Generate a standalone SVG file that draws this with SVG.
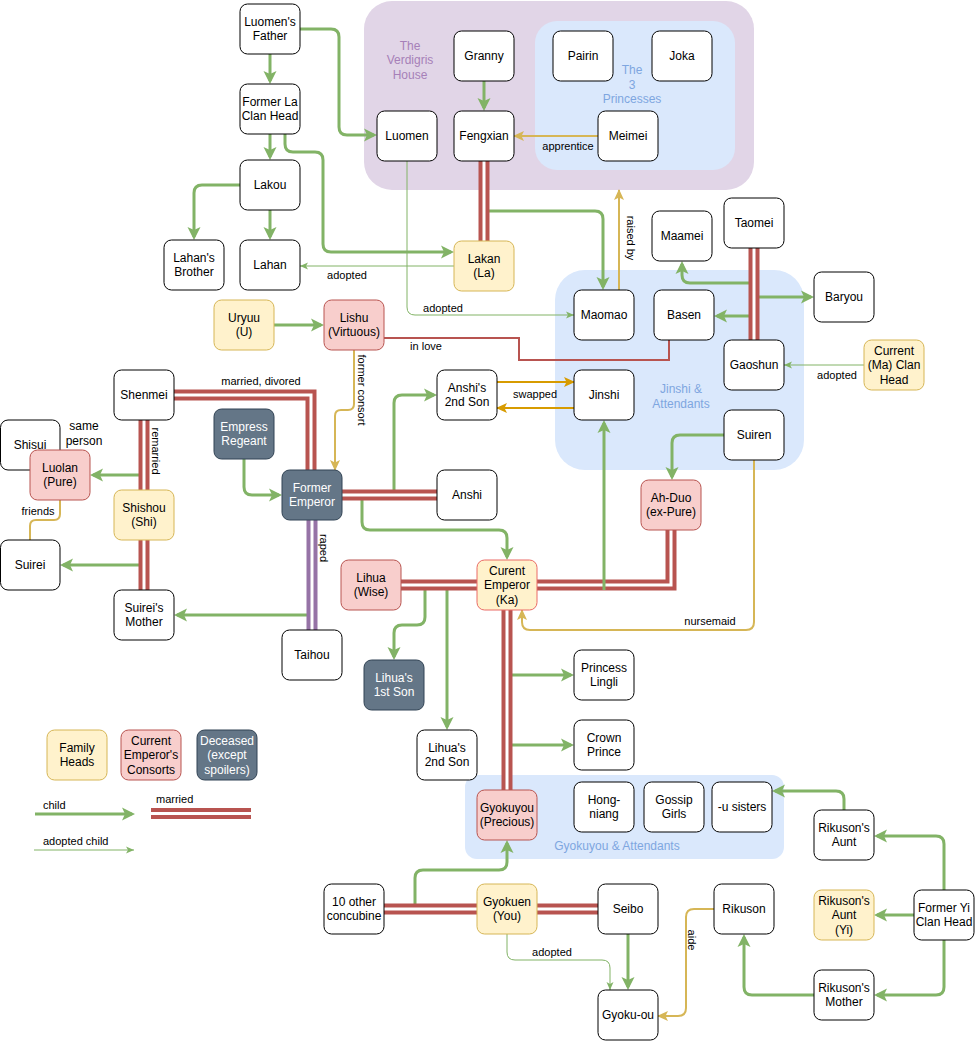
<svg xmlns="http://www.w3.org/2000/svg" width="975" height="1041" viewBox="0 0 975 1041">
<style>
.w{fill:#fff;stroke:#000;stroke-width:1}
.yl{fill:#fff2cc;stroke:#d6b656;stroke-width:1}
.rd{fill:#f8cecc;stroke:#b85450;stroke-width:1}
.dk{fill:#647687;stroke:#314354;stroke-width:1}
.em{fill:#fff2cc;stroke:#ea6b66;stroke-width:1}
text{font-family:"Liberation Sans",Arial,Helvetica,sans-serif;dominant-baseline:central;text-anchor:middle}
.t{font-size:12px;fill:#000}
.tw{font-size:12px;fill:#fff}
.l{font-size:11px;fill:#000}
.c{fill:none;stroke:#82b366;stroke-width:3;marker-end:url(#ag)}
.a{fill:none;stroke:#82b366;stroke-width:1;marker-end:url(#aa)}
.y{fill:none;stroke:#d6b656;stroke-width:2;marker-end:url(#ay)}
.yn{fill:none;stroke:#d6b656;stroke-width:2}
.o{fill:none;stroke:#d79b00;stroke-width:2;marker-end:url(#ao)}
.m1{fill:none;stroke:#b85450;stroke-width:11}
.p1{fill:none;stroke:#9673a6;stroke-width:11}
.m2{fill:none;stroke:#fff;stroke-width:3}
.lv1{fill:none;stroke:#b85450;stroke-width:2}
</style>
<defs>
<marker id="ag" markerUnits="userSpaceOnUse" viewBox="0 0 14 14" markerWidth="14" markerHeight="14" refX="10" refY="7" orient="auto"><path d="M0,0.5 L13,7 L0,13.5 L3,7 Z" fill="#82b366"/></marker>
<marker id="aa" markerUnits="userSpaceOnUse" viewBox="0 0 8 8" markerWidth="8" markerHeight="8" refX="8" refY="4" orient="auto"><path d="M0,0.5 L8,4 L0,7.5 L2,4 Z" fill="#82b366"/></marker>
<marker id="ay" markerUnits="userSpaceOnUse" viewBox="0 0 11 11" markerWidth="11" markerHeight="11" refX="10" refY="5.5" orient="auto"><path d="M0,0.5 L11,5.5 L0,10.5 L2.5,5.5 Z" fill="#d6b656"/></marker>
<marker id="ao" markerUnits="userSpaceOnUse" viewBox="0 0 11 11" markerWidth="11" markerHeight="11" refX="10" refY="5.5" orient="auto"><path d="M0,0.5 L11,5.5 L0,10.5 L2.5,5.5 Z" fill="#d79b00"/></marker>
</defs>
<rect width="975" height="1041" fill="#fff"/>

<g id="groups">
<g id="g-verdigris"><rect x="364" y="1" width="390" height="189" rx="28" fill="#e1d5e7"/>
<text style="font-size:12px;fill:#a680b8"><tspan x="410" y="45.5">The</tspan><tspan x="410" y="60">Verdigris</tspan><tspan x="410" y="74.5">House</tspan></text></g>
<g id="g-princesses"><rect x="535" y="21" width="200" height="149" rx="22" fill="#dae8fc"/>
<text style="font-size:12px;fill:#7ea6e0"><tspan x="632" y="70">The</tspan><tspan x="632" y="84.5">3</tspan><tspan x="632" y="99">Princesses</tspan></text></g>
<g id="g-jinshi"><rect x="555" y="270" width="249" height="200" rx="30" fill="#dae8fc"/>
<text style="font-size:12px;fill:#7ea6e0"><tspan x="681" y="389">Jinshi &amp;</tspan><tspan x="681" y="403.5">Attendants</tspan></text></g>
<g id="g-gyokuyou"><rect x="465" y="775" width="319" height="84" rx="12" fill="#dae8fc"/>
<text x="617" y="846" style="font-size:12px;fill:#7ea6e0">Gyokuyou &amp; Attendants</text></g>
</g>

<g id="connectors">
<path class="c" d="M270,54 V81"/>
<path class="c" d="M300,29 H331 Q339,29 339,37 V127 Q339,135 347,135 H374"/>
<path class="c" d="M270,134 V157"/>
<path class="c" d="M285,134 V144 Q285,152 293,152 H315 Q323,152 323,160 V244 Q323,252 331,252 H451"/>
<path class="c" d="M240,185 H202 Q194,185 194,193 V237"/>
<path class="c" d="M270,210 V237"/>
<path class="c" d="M484,81 V108"/>
<path class="c" d="M484,211 H595 Q603,211 603,219 V287"/>
<path class="c" d="M754,283 H690 Q682,283 682,275 V264"/>
<path class="c" d="M754,297 H811"/>
<path class="c" d="M754,316 H717"/>
<path class="c" d="M274,325 H321"/>
<path class="c" d="M144,475 H93"/>
<path class="c" d="M144,565 H63"/>
<path class="c" d="M244,459 V487 Q244,495 252,495 H279"/>
<path class="c" d="M312,615 H177"/>
<path class="c" d="M394,495 V403 Q394,395 402,395 H434"/>
<path class="c" d="M362,495 V522 Q362,530 370,530 H499 Q507,530 507,538 V557"/>
<path class="c" d="M724,435 H680 Q672,435 672,443 V477"/>
<path class="c" d="M425,585 V617 Q425,625 417,625 H402 Q394,625 394,633 V657"/>
<path class="c" d="M447,585 V727"/>
<path class="c" d="M507,675 H571"/>
<path class="c" d="M507,745 H571"/>
<path class="c" d="M415,909 V878 Q415,870 423,870 H499 Q507,870 507,862 V843"/>
<path class="c" d="M628,934 V987"/>
<path class="c" d="M844,810 V799 Q844,791 836,791 H775"/>
<path class="c" d="M944,890 V844 Q944,836 936,836 H877"/>
<path class="c" d="M914,915 H877"/>
<path class="c" d="M944,940 V987 Q944,995 936,995 H877"/>
<path class="c" d="M814,995 H752 Q744,995 744,987 V937"/>
<path class="a" d="M454,266 H300"/>
<path class="a" d="M407,161 V307 Q407,315 415,315 H574"/>
<path class="a" d="M864,365 H784"/>
<path class="a" d="M507,934 V952 Q507,960 515,960 H602 Q610,960 610,968 V990"/>
<path class="y" d="M598,136 H514"/>
<path class="y" d="M619,290 V190"/>
<path class="y" d="M354,350 V404 Q354,410 348,410 H341 Q335,410 335,416 V470"/>
<path class="yn" d="M60,500 V514 Q60,520 54,520 H36 Q30,520 30,526 V540"/>
<path class="y" d="M754,460 V622 Q754,630 746,630 H530 Q522,630 522,622 V610"/>
<path class="y" d="M714,909 H694 Q686,909 686,917 V1008 Q686,1016 678,1016 H658"/>
<path class="o" d="M497,382 H574"/>
<path class="o" d="M574,408 H497"/>
<path class="lv1" d="M384,338 H519 V360 H669 V340"/>
<path class="m1" d="M484,161 V241"/><path class="m2" d="M484,161 V241"/>
<path class="m1" d="M754,248 V340"/><path class="m2" d="M754,248 V340"/>
<path class="m1" d="M174,395 H311 V470"/><path class="m2" d="M174,395 H311 V470"/>
<path class="m1" d="M144,420 V490"/><path class="m2" d="M144,420 V490"/>
<path class="m1" d="M144,540 V590"/><path class="m2" d="M144,540 V590"/>
<path class="m1" d="M342,495 H437"/><path class="m2" d="M342,495 H437"/>
<path class="m1" d="M401,585 H477"/><path class="m2" d="M401,585 H477"/>
<path class="m1" d="M537,585 H671 V530"/><path class="m2" d="M537,585 H671 V530"/>
<path class="m1" d="M507,610 V790"/><path class="m2" d="M507,610 V790"/>
<path class="m1" d="M384,909 H477"/><path class="m2" d="M384,909 H477"/>
<path class="m1" d="M537,909 H598"/><path class="m2" d="M537,909 H598"/>
<path class="p1" d="M312,520 V630"/><path class="m2" d="M312,520 V630"/>
<path class="c" d="M604,590 V423"/>
<text class="l" x="347" y="275">adopted</text>
<text class="l" x="443" y="308">adopted</text>
<text class="l" x="568" y="146">apprentice</text>
<text class="l" transform="translate(631,238) rotate(90)">raised by</text>
<text class="l" x="837" y="375">adopted</text>
<text class="l" x="426" y="346">in love</text>
<text class="l" x="535" y="394">swapped</text>
<text class="l" transform="translate(362,390) rotate(90)">former consort</text>
<text class="l" x="261" y="381">married, divored</text>
<text class="l" transform="translate(156,451) rotate(90)">remarried</text>
<text class="t"><tspan x="84" y="426">same</tspan><tspan x="84" y="441">person</tspan></text>
<text class="l" x="38" y="511">friends</text>
<text class="l" transform="translate(324,548) rotate(90)">raped</text>
<text class="l" x="710" y="621">nursemaid</text>
<text class="l" x="552" y="952">adopted</text>
<text class="l" transform="translate(692,940) rotate(90)">aide</text>
</g>

<g id="legend">
<path class="c" d="M35,814 H132"/>
<text class="l" x="43" y="805" style="text-anchor:start">child</text>
<path class="m1" d="M151,813.5 H251"/><path class="m2" d="M151,813.5 H251"/>
<text class="l" x="156" y="799" style="text-anchor:start">married</text>
<path class="a" d="M34,850 H134"/>
<text class="l" x="43" y="841" style="text-anchor:start">adopted child</text>
<g id="lg-family"><rect class="yl" x="47" y="730" width="60" height="50" rx="7.5"/><text class="t"><tspan x="77" y="747.75">Family</tspan><tspan x="77" y="762.25">Heads</tspan></text></g>
<g id="lg-consorts"><rect class="rd" x="121" y="730" width="60" height="50" rx="7.5"/><text class="t"><tspan x="151" y="740.5">Current</tspan><tspan x="151" y="755">Emperor's</tspan><tspan x="151" y="769.5">Consorts</tspan></text></g>
<g id="lg-deceased"><rect class="dk" x="197" y="730" width="60" height="50" rx="7.5"/><text class="tw"><tspan x="227" y="740.5">Deceased</tspan><tspan x="227" y="755">(except</tspan><tspan x="227" y="769.5">spoilers)</tspan></text></g>
</g>

<g id="nodes">
<g id="n-luomens-father"><rect class="w" x="240" y="4" width="60" height="50" rx="7.5"/><text class="t"><tspan x="270" y="21.75">Luomen's</tspan><tspan x="270" y="36.25">Father</tspan></text></g>
<g id="n-former-la"><rect class="w" x="240" y="84" width="60" height="50" rx="7.5"/><text class="t"><tspan x="270" y="101.75">Former La</tspan><tspan x="270" y="116.25">Clan Head</tspan></text></g>
<g id="n-lakou"><rect class="w" x="240" y="160" width="60" height="50" rx="7.5"/><text class="t" x="270" y="185">Lakou</text></g>
<g id="n-lahans-brother"><rect class="w" x="164" y="240" width="60" height="50" rx="7.5"/><text class="t"><tspan x="194" y="257.75">Lahan's</tspan><tspan x="194" y="272.25">Brother</tspan></text></g>
<g id="n-lahan"><rect class="w" x="240" y="240" width="60" height="50" rx="7.5"/><text class="t" x="270" y="265">Lahan</text></g>
<g id="n-luomen"><rect class="w" x="377" y="111" width="60" height="50" rx="7.5"/><text class="t" x="407" y="136">Luomen</text></g>
<g id="n-granny"><rect class="w" x="454" y="31" width="60" height="50" rx="7.5"/><text class="t" x="484" y="56">Granny</text></g>
<g id="n-fengxian"><rect class="w" x="454" y="111" width="60" height="50" rx="7.5"/><text class="t" x="484" y="136">Fengxian</text></g>
<g id="n-pairin"><rect class="w" x="553" y="31" width="60" height="50" rx="7.5"/><text class="t" x="583" y="56">Pairin</text></g>
<g id="n-joka"><rect class="w" x="652" y="31" width="60" height="50" rx="7.5"/><text class="t" x="682" y="56">Joka</text></g>
<g id="n-meimei"><rect class="w" x="598" y="111" width="60" height="50" rx="7.5"/><text class="t" x="628" y="136">Meimei</text></g>
<g id="n-lakan"><rect class="yl" x="454" y="241" width="60" height="50" rx="7.5"/><text class="t"><tspan x="484" y="258.75">Lakan</tspan><tspan x="484" y="273.25">(La)</tspan></text></g>
<g id="n-maamei"><rect class="w" x="652" y="211" width="60" height="50" rx="7.5"/><text class="t" x="682" y="236">Maamei</text></g>
<g id="n-taomei"><rect class="w" x="724" y="198" width="60" height="50" rx="7.5"/><text class="t" x="754" y="223">Taomei</text></g>
<g id="n-baryou"><rect class="w" x="814" y="272" width="60" height="50" rx="7.5"/><text class="t" x="844" y="297">Baryou</text></g>
<g id="n-maomao"><rect class="w" x="574" y="290" width="60" height="50" rx="7.5"/><text class="t" x="604" y="315">Maomao</text></g>
<g id="n-basen"><rect class="w" x="654" y="290" width="60" height="50" rx="7.5"/><text class="t" x="684" y="315">Basen</text></g>
<g id="n-gaoshun"><rect class="w" x="724" y="340" width="60" height="50" rx="7.5"/><text class="t" x="754" y="365">Gaoshun</text></g>
<g id="n-ma-clan-head"><rect class="yl" x="864" y="340" width="60" height="50" rx="7.5"/><text class="t"><tspan x="894" y="350.5">Current</tspan><tspan x="894" y="365">(Ma) Clan</tspan><tspan x="894" y="379.5">Head</tspan></text></g>
<g id="n-jinshi"><rect class="w" x="574" y="370" width="60" height="50" rx="7.5"/><text class="t" x="604" y="395">Jinshi</text></g>
<g id="n-suiren"><rect class="w" x="724" y="410" width="60" height="50" rx="7.5"/><text class="t" x="754" y="435">Suiren</text></g>
<g id="n-uryuu"><rect class="yl" x="214" y="300" width="60" height="50" rx="7.5"/><text class="t"><tspan x="244" y="317.75">Uryuu</tspan><tspan x="244" y="332.25">(U)</tspan></text></g>
<g id="n-lishu"><rect class="rd" x="324" y="300" width="60" height="50" rx="7.5"/><text class="t"><tspan x="354" y="317.75">Lishu</tspan><tspan x="354" y="332.25">(Virtuous)</tspan></text></g>
<g id="n-shenmei"><rect class="w" x="114" y="370" width="60" height="50" rx="7.5"/><text class="t" x="144" y="395">Shenmei</text></g>
<g id="n-shisui"><rect class="w" x="0.5" y="420" width="59.5" height="50" rx="7.5"/><text class="t" x="30" y="445">Shisui</text></g>
<g id="n-luolan"><rect class="rd" x="30" y="450" width="60" height="50" rx="7.5"/><text class="t"><tspan x="60" y="467.75">Luolan</tspan><tspan x="60" y="482.25">(Pure)</tspan></text></g>
<g id="n-empress-regeant"><rect class="dk" x="214" y="409" width="60" height="50" rx="7.5"/><text class="tw"><tspan x="244" y="426.75">Empress</tspan><tspan x="244" y="441.25">Regeant</tspan></text></g>
<g id="n-former-emperor"><rect class="dk" x="282" y="470" width="60" height="50" rx="7.5"/><text class="tw"><tspan x="312" y="487.75">Former</tspan><tspan x="312" y="502.25">Emperor</tspan></text></g>
<g id="n-shishou"><rect class="yl" x="114" y="490" width="60" height="50" rx="7.5"/><text class="t"><tspan x="144" y="507.75">Shishou</tspan><tspan x="144" y="522.25">(Shi)</tspan></text></g>
<g id="n-suirei"><rect class="w" x="0.5" y="540" width="59.5" height="50" rx="7.5"/><text class="t" x="30" y="565">Suirei</text></g>
<g id="n-suireis-mother"><rect class="w" x="114" y="590" width="60" height="50" rx="7.5"/><text class="t"><tspan x="144" y="607.75">Suirei's</tspan><tspan x="144" y="622.25">Mother</tspan></text></g>
<g id="n-taihou"><rect class="w" x="282" y="630" width="60" height="50" rx="7.5"/><text class="t" x="312" y="655">Taihou</text></g>
<g id="n-anshis-2nd-son"><rect class="w" x="437" y="370" width="60" height="50" rx="7.5"/><text class="t"><tspan x="467" y="387.75">Anshi's</tspan><tspan x="467" y="402.25">2nd Son</tspan></text></g>
<g id="n-anshi"><rect class="w" x="437" y="470" width="60" height="50" rx="7.5"/><text class="t" x="467" y="495">Anshi</text></g>
<g id="n-lihua"><rect class="rd" x="341" y="560" width="60" height="50" rx="7.5"/><text class="t"><tspan x="371" y="577.75">Lihua</tspan><tspan x="371" y="592.25">(Wise)</tspan></text></g>
<g id="n-curent-emperor"><rect class="em" x="477" y="560" width="60" height="50" rx="7.5"/><text class="t"><tspan x="507" y="570.5">Curent</tspan><tspan x="507" y="585">Emperor</tspan><tspan x="507" y="599.5">(Ka)</tspan></text></g>
<g id="n-ah-duo"><rect class="rd" x="641" y="480" width="60" height="50" rx="7.5"/><text class="t"><tspan x="671" y="497.75">Ah-Duo</tspan><tspan x="671" y="512.25">(ex-Pure)</tspan></text></g>
<g id="n-lihuas-1st-son"><rect class="dk" x="364" y="660" width="60" height="50" rx="7.5"/><text class="tw"><tspan x="394" y="677.75">Lihua's</tspan><tspan x="394" y="692.25">1st Son</tspan></text></g>
<g id="n-lihuas-2nd-son"><rect class="w" x="417" y="730" width="60" height="50" rx="7.5"/><text class="t"><tspan x="447" y="747.75">Lihua's</tspan><tspan x="447" y="762.25">2nd Son</tspan></text></g>
<g id="n-princess-lingli"><rect class="w" x="574" y="650" width="60" height="50" rx="7.5"/><text class="t"><tspan x="604" y="667.75">Princess</tspan><tspan x="604" y="682.25">Lingli</tspan></text></g>
<g id="n-crown-prince"><rect class="w" x="574" y="720" width="60" height="50" rx="7.5"/><text class="t"><tspan x="604" y="737.75">Crown</tspan><tspan x="604" y="752.25">Prince</tspan></text></g>
<g id="n-gyokuyou"><rect class="rd" x="477" y="790" width="60" height="50" rx="7.5"/><text class="t"><tspan x="507" y="807.75">Gyokuyou</tspan><tspan x="507" y="822.25">(Precious)</tspan></text></g>
<g id="n-hong-niang"><rect class="w" x="574" y="782" width="60" height="50" rx="7.5"/><text class="t"><tspan x="604" y="799.75">Hong-</tspan><tspan x="604" y="814.25">niang</tspan></text></g>
<g id="n-gossip-girls"><rect class="w" x="644" y="782" width="60" height="50" rx="7.5"/><text class="t"><tspan x="674" y="799.75">Gossip</tspan><tspan x="674" y="814.25">Girls</tspan></text></g>
<g id="n-u-sisters"><rect class="w" x="712" y="782" width="60" height="50" rx="7.5"/><text class="t" x="742" y="807">-u sisters</text></g>
<g id="n-rikusons-aunt"><rect class="w" x="814" y="810" width="60" height="50" rx="7.5"/><text class="t"><tspan x="844" y="827.75">Rikuson's</tspan><tspan x="844" y="842.25">Aunt</tspan></text></g>
<g id="n-10-other"><rect class="w" x="324" y="884" width="60" height="50" rx="7.5"/><text class="t"><tspan x="354" y="901.75">10 other</tspan><tspan x="354" y="916.25">concubine</tspan></text></g>
<g id="n-gyokuen"><rect class="yl" x="477" y="884" width="60" height="50" rx="7.5"/><text class="t"><tspan x="507" y="901.75">Gyokuen</tspan><tspan x="507" y="916.25">(You)</tspan></text></g>
<g id="n-seibo"><rect class="w" x="598" y="884" width="60" height="50" rx="7.5"/><text class="t" x="628" y="909">Seibo</text></g>
<g id="n-rikuson"><rect class="w" x="714" y="884" width="60" height="50" rx="7.5"/><text class="t" x="744" y="909">Rikuson</text></g>
<g id="n-rikusons-aunt-yi"><rect class="yl" x="814" y="890" width="60" height="50" rx="7.5"/><text class="t"><tspan x="844" y="900.5">Rikuson's</tspan><tspan x="844" y="915">Aunt</tspan><tspan x="844" y="929.5">(Yi)</tspan></text></g>
<g id="n-former-yi"><rect class="w" x="914" y="890" width="60" height="50" rx="7.5"/><text class="t"><tspan x="944" y="907.75">Former Yi</tspan><tspan x="944" y="922.25">Clan Head</tspan></text></g>
<g id="n-rikusons-mother"><rect class="w" x="814" y="970" width="60" height="50" rx="7.5"/><text class="t"><tspan x="844" y="987.75">Rikuson's</tspan><tspan x="844" y="1002.25">Mother</tspan></text></g>
<g id="n-gyoku-ou"><rect class="w" x="598" y="990" width="60" height="50" rx="7.5"/><text class="t" x="628" y="1015">Gyoku-ou</text></g>
</g>
</svg>
